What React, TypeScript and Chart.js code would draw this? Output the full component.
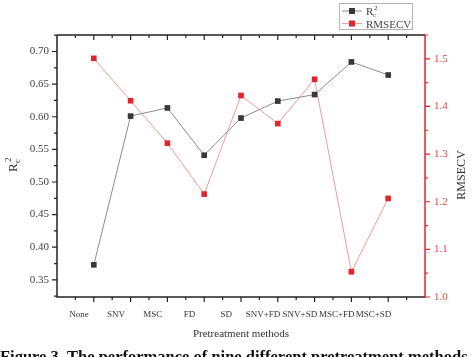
import React, { useEffect, useRef } from "react";
import { Chart, registerables } from "chart.js";

Chart.register(...registerables);

const categories = ["None", "SNV", "MSC", "FD", "SD", "SNV+FD", "SNV+SD", "MSC+FD", "MSC+SD"];
const r2Values = [0.373, 0.601, 0.6135, 0.541, 0.598, 0.624, 0.634, 0.684, 0.664];
const rmsecvValues = [1.501, 1.412, 1.323, 1.216, 1.423, 1.364, 1.457, 1.053, 1.207];
const leftTicks = [0.35, 0.4, 0.45, 0.5, 0.55, 0.6, 0.65, 0.7];
const rightTicks = [1.0, 1.1, 1.2, 1.3, 1.4, 1.5];
const xTitle = "Pretreatment methods";
const rightTitle = "RMSECV";
const caption = "Figure 3. The performance of nine different pretreatment methods";

const SERIF = "'Liberation Serif', 'DejaVu Serif', serif";
const DARK = "#333333";
const RED = "#e3242b";
const RED_LINE = "#f09a9a";
const BLACK_PT = "#383838";
const GRAY_LINE = "#8c8c8c";

const decor = {
  id: "decor",
  afterDraw(chart: any) {
    const { ctx, chartArea } = chart;
    const { left, right, top, bottom } = chartArea;
    const x = chart.scales.x;
    const y = chart.scales.y;
    const y1 = chart.scales.y1;
    ctx.save();
    // frame
    ctx.lineWidth = 1.5;
    ctx.strokeStyle = "#222";
    ctx.beginPath();
    ctx.moveTo(left, top);
    ctx.lineTo(right, top);
    ctx.moveTo(left, top);
    ctx.lineTo(left, bottom);
    ctx.lineTo(right, bottom);
    ctx.stroke();
    ctx.strokeStyle = RED;
    ctx.beginPath();
    ctx.moveTo(right, top);
    ctx.lineTo(right, bottom + 0.75);
    ctx.stroke();

    // x ticks
    ctx.lineWidth = 1.2;
    ctx.strokeStyle = "#222";
    ctx.beginPath();
    for (let i = -1; i <= categories.length; i++) {
      const px = x.getPixelForValue(i);
      if (i > -1 && i < categories.length) {
        ctx.moveTo(px, bottom);
        ctx.lineTo(px, bottom + 5);
        ctx.moveTo(px, top);
        ctx.lineTo(px, top + 5);
      }
      if (i < categories.length) {
        const pm = x.getPixelForValue(i + 0.5);
        ctx.moveTo(pm, bottom);
        ctx.lineTo(pm, bottom + 3);
        ctx.moveTo(pm, top);
        ctx.lineTo(pm, top + 3);
      }
    }
    ctx.stroke();

    // left ticks
    ctx.beginPath();
    leftTicks.forEach((v) => {
      const py = y.getPixelForValue(v);
      ctx.moveTo(left, py);
      ctx.lineTo(left - 5, py);
      const pm = y.getPixelForValue(v - 0.025);
      ctx.moveTo(left, pm);
      ctx.lineTo(left - 3, pm);
    });
    const pTop = y.getPixelForValue(0.725);
    if (pTop >= top) {
      ctx.moveTo(left, pTop);
      ctx.lineTo(left - 3, pTop);
    }
    ctx.stroke();

    // right ticks
    ctx.strokeStyle = RED;
    ctx.beginPath();
    rightTicks.forEach((v) => {
      const py = y1.getPixelForValue(v);
      ctx.moveTo(right, py);
      ctx.lineTo(right + 5, py);
      const pm = y1.getPixelForValue(v + 0.05);
      if (pm >= top) {
        ctx.moveTo(right, pm);
        ctx.lineTo(right + 3, pm);
      }
    });
    ctx.stroke();

    // x title
    ctx.fillStyle = DARK;
    ctx.font = `11px ${SERIF}`;
    ctx.textAlign = "center";
    ctx.textBaseline = "middle";
    ctx.fillText(xTitle, (left + right) / 2, 334);

    // right title
    ctx.save();
    ctx.translate(462, 175);
    ctx.rotate(-Math.PI / 2);
    ctx.font = `12px ${SERIF}`;
    ctx.fillText(rightTitle, 0, 0);
    ctx.restore();

    // left title R_c^2
    ctx.save();
    ctx.translate(13, 165);
    ctx.rotate(-Math.PI / 2);
    ctx.textAlign = "left";
    ctx.textBaseline = "alphabetic";
    ctx.font = `13px ${SERIF}`;
    ctx.fillText("R", -7, 4);
    ctx.font = `9px ${SERIF}`;
    ctx.fillText("c", 2, 7);
    ctx.fillText("2", 3, -2);
    ctx.restore();

    // legend
    ctx.lineWidth = 1;
    ctx.strokeStyle = "#b5b5b5";
    ctx.strokeRect(339.5, 3.5, 73, 26);
    const rows = [
      { yy: 11, line: GRAY_LINE, pt: BLACK_PT },
      { yy: 23.5, line: RED_LINE, pt: RED },
    ];
    rows.forEach((r) => {
      ctx.strokeStyle = r.line;
      ctx.beginPath();
      ctx.moveTo(342, r.yy);
      ctx.lineTo(362, r.yy);
      ctx.stroke();
      ctx.fillStyle = r.pt;
      ctx.fillRect(349, r.yy - 3, 6, 6);
    });
    ctx.fillStyle = "#444";
    ctx.textAlign = "left";
    ctx.textBaseline = "alphabetic";
    ctx.font = `11px ${SERIF}`;
    ctx.fillText("R", 366, 15);
    ctx.font = `7px ${SERIF}`;
    ctx.fillText("c", 373, 17);
    ctx.fillText("2", 374, 10);
    ctx.font = `11px ${SERIF}`;
    ctx.fillText("RMSECV", 366, 27.5);

    // caption
    ctx.fillStyle = "#111";
    ctx.font = `bold 16.5px ${SERIF}`;
    ctx.fillText(caption, 0, 362);
    ctx.restore();
  },
};

export default function App() {
  const ref = useRef<HTMLCanvasElement>(null);
  useEffect(() => {
    if (!ref.current) return;
    const chart = new Chart(ref.current, {
      type: "line",
      data: {
        datasets: [
          {
            label: "Rc2",
            data: r2Values.map((v, i) => ({ x: i, y: v })),
            yAxisID: "y",
            borderColor: GRAY_LINE,
            borderWidth: 1,
            backgroundColor: BLACK_PT,
            pointStyle: "rect",
            pointRadius: 4,
            pointBorderWidth: 0,
            pointBackgroundColor: BLACK_PT,
          },
          {
            label: "RMSECV",
            data: rmsecvValues.map((v, i) => ({ x: i, y: v })),
            yAxisID: "y1",
            borderColor: RED_LINE,
            borderWidth: 1,
            backgroundColor: RED,
            pointStyle: "rect",
            pointRadius: 4,
            pointBorderWidth: 0,
            pointBackgroundColor: RED,
          },
        ],
      },
      options: {
        animation: false,
        responsive: false,
        layout: { padding: { top: 35, left: 0, right: 0, bottom: 0 } },
        plugins: { legend: { display: false }, tooltip: { enabled: false } },
        scales: {
          x: {
            type: "linear",
            position: "bottom",
            min: -1,
            max: categories.length,
            grid: { display: false, drawTicks: true, tickLength: 6 },
            border: { display: false },
            afterBuildTicks: (s: any) => {
              s.ticks = categories.map((_, i) => ({ value: i - 0.4 }));
            },
            afterFit: (s: any) => {
              s.height = 60;
            },
            ticks: {
              autoSkip: false,
              maxRotation: 0,
              minRotation: 0,
              padding: 6,
              color: DARK,
              font: { family: SERIF, size: 9 },
              callback: (_v: any, i: number) => categories[i],
            },
          },
          y: {
            type: "linear",
            position: "left",
            min: 0.3237,
            max: 0.7253,
            grid: { display: false, drawTicks: true, tickLength: 6 },
            border: { display: false },
            afterBuildTicks: (s: any) => {
              s.ticks = leftTicks.map((v) => ({ value: v }));
            },
            afterFit: (s: any) => {
              s.width = 57;
            },
            ticks: {
              padding: 2,
              color: "#444",
              font: { family: SERIF, size: 11 },
              callback: (v: any) => Number(v).toFixed(2),
            },
          },
          y1: {
            type: "linear",
            position: "right",
            min: 1.0,
            max: 1.55,
            grid: { display: false, drawTicks: true, tickLength: 6 },
            border: { display: false },
            afterBuildTicks: (s: any) => {
              s.ticks = rightTicks.map((v) => ({ value: v }));
            },
            afterFit: (s: any) => {
              s.width = 49;
            },
            ticks: {
              padding: 3,
              color: "#e04848",
              font: { family: SERIF, size: 11 },
              callback: (v: any) => Number(v).toFixed(1),
            },
          },
        },
      },
      plugins: [decor],
    });
    return () => chart.destroy();
  }, []);
  return (
    <canvas
      ref={ref}
      width={474}
      height={357}
      style={{ position: "absolute", left: 0, top: 0, display: "block", width: 474, height: 357 }}
    />
  );
}
